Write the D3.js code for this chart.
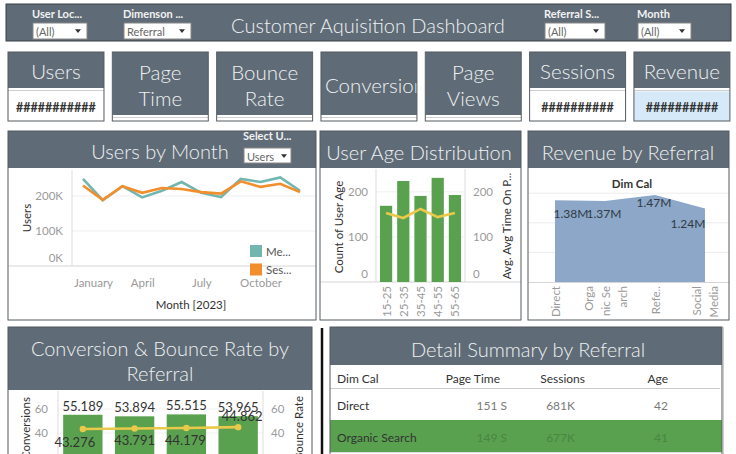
<!DOCTYPE html>
<html><head><meta charset="utf-8">
<script src="https://cdn.jsdelivr.net/npm/d3@7"></script>
<style>body{margin:0;background:#fff;} svg{display:block;font-family:Lato,"Open Sans",sans-serif;}</style>
</head><body><svg id="c" width="736" height="454"></svg>
<script>
// ---------- DATA ----------
const filterLabels = ["User Loc...", "Dimenson ...", "Referral S...", "Month"];
const filterValues = ["(All)", "Referral", "(All)", "(All)"];
const kpiNames = ["Users", "Page Time", "Bounce Rate", "Conversion", "Page Views", "Sessions", "Revenue"];
const kpiTitleLines = [["Users"], ["Page", "Time"], ["Bounce", "Rate"], ["Conversion"], ["Page", "Views"], ["Sessions"], ["Revenue"]];
const kpiValues = ["###########", null, null, null, null, "##########", "##########"];

const months = ["January","February","March","April","May","June","July","August","September","October","November","December"];
const monthTicks = ["January","April","July","October"];
const mediumUsers = [249000,188000,228000,196000,215000,240000,209000,197000,249000,240000,253000,215000];
const sessionUsers = [230000,189000,228000,209000,223000,220000,211000,207000,242000,226000,235000,211000];
const usersTicks = [0,100000,200000];

const ageGroups = ["15-25","25-35","35-45","45-55","55-65"];
const ageCounts = [169,224,191,231,193];
const ageAvgTime = [153,142,162,144,153];
const ageTicks = [0,100,200];

const referrals = ["Direct","Organic Search","Referral","Social Media"];
const referralTickLines = [["Direct"],["Orga","nic Se","arch"],["Refe.."],["Social","Media"]];
const revenue = [1380000,1370000,1470000,1240000];
const revenueLabels = ["1.38M","1.37M","1.47M","1.24M"];
const revenueGrid = [500000,1000000,1500000];

const conversions = [55.189,53.894,55.515,53.965];
const bounceRates = [43.276,43.791,44.179,44.862];
const convTicks = [40,60];

const tableHeaders = ["Dim Cal","Page Time","Sessions","Age"];
const tableRows = [["Direct","151 S","681K","42"],["Organic Search","149 S","677K","41"]];

// ---------- STYLE ----------
const GRAY = "#5f6b76", HTXT = "#eef1f3", BORDER = "#555b61";
const GREEN = "#59a14f", TEAL = "#72b6b0", ORANGE = "#f28e2b", YELLOW = "#e9c94a", AREA = "#8ca7c7";
const TICK = "#9a9a9a", DARK = "#333", TW = 300;

const svg = d3.select("#c");

// ---------- TOP BAR ----------
svg.append("rect").attr("x",6).attr("y",4).attr("width",725).attr("height",37)
  .attr("fill",GRAY).attr("stroke","#3b4045");
svg.append("text").attr("x",368).attr("y",25).attr("text-anchor","middle")
  .attr("dominant-baseline","central").attr("font-size",20).attr("font-weight",TW).attr("fill",HTXT)
  .text("Customer Aquisition Dashboard");
const filterX = [32,123,544,637], filterW = [54,67,60,53];
filterLabels.forEach((l,i)=>{
  const g = svg.append("g").attr("transform",`translate(${filterX[i]},0)`);
  g.append("text").attr("x",0).attr("y",18).attr("font-size",11).attr("font-weight",700)
    .attr("fill","#f2f2f2").text(l);
  g.append("rect").attr("x",1).attr("y",23).attr("width",filterW[i]).attr("height",16)
    .attr("fill","#fff").attr("stroke","#888");
  g.append("text").attr("x",4).attr("y",31.5).attr("dominant-baseline","central")
    .attr("font-size",11).attr("fill","#666").text(filterValues[i]);
  g.append("path").attr("transform",`translate(${filterW[i]-8},31)`)
    .attr("d","M-3,-1.8L3,-1.8L0,2Z").attr("fill","#333");
});

// ---------- KPI BOXES ----------
const kx = d3.scaleBand().domain(kpiNames).range([8,729.9]).paddingInner(0.08).paddingOuter(0);
const defs = svg.append("defs");
kpiNames.forEach((k,i)=>{
  const x = kx(k), w = kx.bandwidth(), y0 = 52, h = 69;
  const hasVal = kpiValues[i] !== null;
  const hh = hasVal ? 36 : 63;
  defs.append("clipPath").attr("id","kc"+i).append("rect")
    .attr("x",x).attr("y",y0).attr("width",w).attr("height",h);
  const g = svg.append("g").attr("clip-path",`url(#kc${i})`);
  g.append("rect").attr("x",x).attr("y",y0).attr("width",w).attr("height",h).attr("fill","#fff");
  g.append("rect").attr("x",x).attr("y",y0).attr("width",w).attr("height",hh).attr("fill",GRAY);
  g.append("line").attr("x1",x).attr("x2",x+w).attr("y1",y0+hh+2.5).attr("y2",y0+hh+2.5)
    .attr("stroke","#cfcfcf").attr("stroke-width",1.2);
  if (hasVal) {
    g.append("rect").attr("x",x).attr("y",y0+hh+3.5).attr("width",w).attr("height",h-hh-3.5)
      .attr("fill", k==="Revenue" ? "#d5e9f8" : "#fff");
    g.append("text").attr("x",x+w/2).attr("y",y0+55).attr("text-anchor","middle")
      .attr("dominant-baseline","central").attr("font-size",12.5).attr("font-weight",700)
      .attr("fill","#333").text(kpiValues[i]);
  }
  const lines = kpiTitleLines[i];
  const cy = hasVal ? y0+19 : (lines.length===1 ? y0+33 : y0+20);
  lines.forEach((t,j)=>{
    g.append("text").attr("x", lines.length===1 && !hasVal ? x+4 : x+w/2).attr("y",cy+j*26)
      .attr("text-anchor", lines.length===1 && !hasVal ? "start" : "middle")
      .attr("dominant-baseline","central").attr("font-size",20.5).attr("font-weight",TW)
      .attr("fill",HTXT).text(t);
  });
  svg.append("rect").attr("x",x).attr("y",y0).attr("width",w).attr("height",h)
    .attr("fill","none").attr("stroke",BORDER);
});

// ---------- PANEL HELPER ----------
function panel(x,y,w,h,hh,titles,cx,cy,lh){
  svg.append("rect").attr("x",x).attr("y",y).attr("width",w).attr("height",h).attr("fill","#fff");
  svg.append("rect").attr("x",x).attr("y",y).attr("width",w).attr("height",hh).attr("fill",GRAY);
  titles.forEach((t,j)=>svg.append("text").attr("x",cx).attr("y",cy+j*(lh||0))
    .attr("text-anchor","middle").attr("dominant-baseline","central")
    .attr("font-size",20).attr("font-weight",TW).attr("fill",HTXT).text(t));
}
function border(x,y,w,h){
  svg.append("rect").attr("x",x).attr("y",y).attr("width",w).attr("height",h)
    .attr("fill","none").attr("stroke",BORDER);
}
function styleAxis(g,size,color){
  g.select(".domain").remove();
  g.selectAll("text").attr("font-size",size).attr("fill",color).attr("font-family","Lato,sans-serif");
}

// ---------- USERS BY MONTH ----------
panel(8,131,308,189,37,["Users by Month"],160,151);
svg.append("text").attr("x",243).attr("y",140).attr("font-size",11).attr("font-weight",700)
  .attr("fill","#f2f2f2").text("Select U...");
svg.append("rect").attr("x",244).attr("y",148).attr("width",47).attr("height",15)
  .attr("fill","#fff").attr("stroke","#888");
svg.append("text").attr("x",247).attr("y",156).attr("dominant-baseline","central")
  .attr("font-size",11).attr("fill","#666").text("Users");
svg.append("path").attr("transform","translate(284,156)").attr("d","M-3,-1.8L3,-1.8L0,2Z").attr("fill","#333");

const xm = d3.scalePoint().domain(months).range([83,300]);
const ym = d3.scaleLinear().domain([0,270000]).range([266,171.5]);
svg.append("g").selectAll("line").data(usersTicks.slice(1)).join("line")
  .attr("x1",72).attr("x2",316).attr("y1",d=>ym(d)).attr("y2",d=>ym(d)).attr("stroke","#efefef");
svg.append("line").attr("x1",72).attr("x2",72).attr("y1",170).attr("y2",266).attr("stroke","#ddd");
svg.append("line").attr("x1",8).attr("x2",316).attr("y1",266).attr("y2",266).attr("stroke","#d6d6d6");
const yAxM = svg.append("g").attr("transform","translate(66,0)")
  .call(d3.axisLeft(ym).tickValues(usersTicks).tickSize(0).tickFormat(d=>d/1000+"K"));
styleAxis(yAxM,11.5,TICK);
yAxM.selectAll(".tick").filter(d=>d===0).select("text").attr("dy","-0.35em");
const xAxM = svg.append("g").attr("transform","translate(0,276)")
  .call(d3.axisBottom(xm).tickValues(monthTicks).tickSize(0));
styleAxis(xAxM,11.5,TICK);
xAxM.selectAll(".tick").filter(d=>d==="January").select("text").attr("dx",10);
svg.append("text").attr("transform","translate(26,218) rotate(-90)").attr("text-anchor","middle")
  .attr("dominant-baseline","central").attr("font-size",11.5).attr("fill",DARK).text("Users");
svg.append("text").attr("x",191).attr("y",304).attr("text-anchor","middle")
  .attr("dominant-baseline","central").attr("font-size",11.5).attr("fill",DARK).text("Month [2023]");
const lineM = d3.line().x((d,i)=>xm(months[i])).y(d=>ym(d));
svg.append("path").datum(mediumUsers).attr("d",lineM).attr("fill","none").attr("stroke",TEAL).attr("stroke-width",2.6);
svg.append("path").datum(sessionUsers).attr("d",lineM).attr("fill","none").attr("stroke",ORANGE).attr("stroke-width",2.6);
[["Me...",TEAL],["Ses...",ORANGE]].forEach((l,i)=>{
  svg.append("rect").attr("x",250).attr("y",245+i*18.5).attr("width",12).attr("height",12).attr("fill",l[1]);
  svg.append("text").attr("x",266).attr("y",251+i*18.5).attr("dominant-baseline","central")
    .attr("font-size",11.5).attr("fill","#555").text(l[0]);
});
border(8,131,308,189);

// ---------- USER AGE DISTRIBUTION ----------
panel(320,131,201,189,37,["User Age Distribution"],419,152);
const xa = d3.scaleBand().domain(ageGroups).range([376,465]).paddingInner(0.29).paddingOuter(0.23);
const ya = d3.scaleLinear().domain([0,244]).range([282,172]);
svg.append("g").selectAll("line").data(ageTicks.slice(1)).join("line")
  .attr("x1",376).attr("x2",465).attr("y1",d=>ya(d)).attr("y2",d=>ya(d)).attr("stroke","#f0f0f0");
svg.append("line").attr("x1",376).attr("x2",376).attr("y1",169).attr("y2",282).attr("stroke","#ddd");
svg.append("line").attr("x1",465).attr("x2",465).attr("y1",169).attr("y2",282).attr("stroke","#ddd");
svg.append("line").attr("x1",320).attr("x2",521).attr("y1",282).attr("y2",282).attr("stroke","#d6d6d6");
svg.append("g").selectAll("rect").data(ageCounts).join("rect")
  .attr("x",(d,i)=>xa(ageGroups[i])).attr("width",xa.bandwidth())
  .attr("y",d=>ya(d)).attr("height",d=>ya(0)-ya(d)).attr("fill",GREEN);
svg.append("path").datum(ageAvgTime)
  .attr("d",d3.line().x((d,i)=>xa(ageGroups[i])+xa.bandwidth()/2).y(d=>ya(d)))
  .attr("fill","none").attr("stroke",YELLOW).attr("stroke-width",2.6);
const yAxA = svg.append("g").attr("transform","translate(371,0)")
  .call(d3.axisLeft(ya).tickValues(ageTicks).tickSize(0));
styleAxis(yAxA,11.5,TICK);
yAxA.selectAll(".tick").filter(d=>d===0).select("text").attr("dy","-0.35em");
const yAxA2 = svg.append("g").attr("transform","translate(470,0)")
  .call(d3.axisRight(ya).tickValues(ageTicks).tickSize(0));
styleAxis(yAxA2,11.5,TICK);
yAxA2.selectAll(".tick").filter(d=>d===0).select("text").attr("dy","-0.35em");
svg.append("g").selectAll("text").data(ageGroups).join("text")
  .attr("transform",d=>`translate(${xa(d)+xa.bandwidth()/2},286) rotate(-90)`)
  .attr("text-anchor","end").attr("dominant-baseline","central")
  .attr("font-size",11.5).attr("fill",TICK).text(d=>d);
svg.append("text").attr("transform","translate(338,227) rotate(-90)").attr("text-anchor","middle")
  .attr("dominant-baseline","central").attr("font-size",11.5).attr("fill",DARK).text("Count of User Age");
svg.append("text").attr("transform","translate(506,226) rotate(-90)").attr("text-anchor","middle")
  .attr("dominant-baseline","central").attr("font-size",11.5).attr("fill",DARK).text("Avg. Avg Time On P...");
border(320,131,201,189);

// ---------- REVENUE BY REFERRAL ----------
panel(528,131,201,189,37,["Revenue by Referral"],628,152);
svg.append("text").attr("x",632).attr("y",183).attr("text-anchor","middle")
  .attr("dominant-baseline","central").attr("font-size",11.5).attr("font-weight",700)
  .attr("fill",DARK).text("Dim Cal");
const xr = d3.scalePoint().domain(referrals).range([555,705]);
const yr = d3.scaleLinear().domain([0,1500000]).range([282,193.2]);
svg.append("g").selectAll("line").data(revenueGrid).join("line")
  .attr("x1",528).attr("x2",729).attr("y1",d=>yr(d)).attr("y2",d=>yr(d)).attr("stroke","#ececec");
svg.append("path").datum(revenue)
  .attr("d",d3.area().x((d,i)=>xr(referrals[i])).y0(yr(0)).y1(d=>yr(d)))
  .attr("fill",AREA);
svg.append("line").attr("x1",528).attr("x2",729).attr("y1",282.5).attr("y2",282.5).attr("stroke","#d6d6d6");
const revLabelDx = [16,-1,-1,-17], revLabelDy = [13,13,8,15];
svg.append("g").selectAll("text").data(revenue).join("text")
  .attr("x",(d,i)=>xr(referrals[i])+revLabelDx[i]).attr("y",(d,i)=>yr(d)+revLabelDy[i])
  .attr("text-anchor","middle").attr("dominant-baseline","central")
  .attr("font-size",12).attr("fill","#2f3a46").text((d,i)=>revenueLabels[i]);
referrals.forEach((r,i)=>{
  const ls = referralTickLines[i];
  ls.forEach((t,j)=>{
    const off = (j-(ls.length-1)/2)*17;
    svg.append("text").attr("transform",`translate(${xr(r)+off},286) rotate(-90)`)
      .attr("text-anchor","end").attr("dominant-baseline","central")
      .attr("font-size",11.5).attr("fill",TICK).text(t);
  });
});
border(528,131,201,189);

// ---------- CONVERSION & BOUNCE RATE ----------
panel(8,327,304,140,63,["Conversion & Bounce Rate by","Referral"],160,348,25);
const xc = d3.scaleBand().domain(referrals).range([58,263]).paddingInner(0.24).paddingOuter(0.1);
const yc = d3.scaleLinear().domain([0,70]).range([481,397]);
svg.append("g").selectAll("line").data(convTicks).join("line")
  .attr("x1",58).attr("x2",263).attr("y1",d=>yc(d)).attr("y2",d=>yc(d)).attr("stroke","#f0f0f0");
svg.append("line").attr("x1",58).attr("x2",58).attr("y1",391).attr("y2",454).attr("stroke","#ddd");
svg.append("line").attr("x1",263).attr("x2",263).attr("y1",391).attr("y2",454).attr("stroke","#ddd");
svg.append("g").selectAll("rect").data(conversions).join("rect")
  .attr("x",(d,i)=>xc(referrals[i])).attr("width",xc.bandwidth())
  .attr("y",d=>yc(d)).attr("height",d=>yc(0)-yc(d)).attr("fill",GREEN);
const cxp = i=>xc(referrals[i])+xc.bandwidth()/2;
svg.append("path").datum(bounceRates).attr("d",d3.line().x((d,i)=>cxp(i)).y(d=>yc(d)))
  .attr("fill","none").attr("stroke",YELLOW).attr("stroke-width",2.6);
svg.append("g").selectAll("circle").data(bounceRates).join("circle")
  .attr("cx",(d,i)=>cxp(i)).attr("cy",d=>yc(d)).attr("r",3.2).attr("fill",YELLOW);
svg.append("g").selectAll("text").data(conversions).join("text")
  .attr("x",(d,i)=>cxp(i)).attr("y",d=>yc(d)-9).attr("text-anchor","middle")
  .attr("dominant-baseline","central").attr("font-size",13).attr("fill",DARK).text(d=>d.toFixed(3));
const bDx = [-8,0,-1,4], bDy = [13,12,12,-11];
svg.append("g").selectAll("text").data(bounceRates).join("text")
  .attr("x",(d,i)=>cxp(i)+bDx[i]).attr("y",(d,i)=>yc(d)+bDy[i]).attr("text-anchor","middle")
  .attr("dominant-baseline","central").attr("font-size",13).attr("fill",DARK).text(d=>d.toFixed(3));
const yAxC = svg.append("g").attr("transform","translate(51,0)")
  .call(d3.axisLeft(yc).tickValues(convTicks).tickSize(0));
styleAxis(yAxC,11.5,TICK);
const yAxC2 = svg.append("g").attr("transform","translate(268,0)")
  .call(d3.axisRight(yc).tickValues(convTicks).tickSize(0));
styleAxis(yAxC2,11.5,TICK);
svg.append("text").attr("transform","translate(25,428) rotate(-90)").attr("text-anchor","middle")
  .attr("dominant-baseline","central").attr("font-size",11.5).attr("fill",DARK).text("Conversions");
svg.append("text").attr("transform","translate(298,428) rotate(-90)").attr("text-anchor","middle")
  .attr("dominant-baseline","central").attr("font-size",11.5).attr("fill",DARK).text("Bounce Rate");
border(8,327,304,140);

// divider
svg.append("line").attr("x1",322).attr("x2",322).attr("y1",328).attr("y2",454)
  .attr("stroke","#111").attr("stroke-width",2.5);

// ---------- DETAIL SUMMARY ----------
panel(330,327,392,140,38,["Detail Summary by Referral"],528,349);
const colX = [337,500,585,668];
const colAnchor = ["start","end","end","end"];
tableHeaders.forEach((h,i)=>{
  svg.append("text").attr("x",colX[i]).attr("y",378).attr("text-anchor",colAnchor[i])
    .attr("dominant-baseline","central").attr("font-size",12).attr("fill",DARK).text(h);
});
svg.append("line").attr("x1",330).attr("x2",720).attr("y1",388.5).attr("y2",388.5).attr("stroke","#ccc");
const rowY = d3.scalePoint().domain(tableRows.map(r=>r[0])).range([405,437]);
svg.append("rect").attr("x",330).attr("y",420).attr("width",392).attr("height",32).attr("fill",GREEN);
const valX = [337,507,575,668];
tableRows.forEach((r,ri)=>{
  r.forEach((v,ci)=>{
    svg.append("text").attr("x",valX[ci]).attr("y",rowY(r[0])).attr("text-anchor",colAnchor[ci])
      .attr("dominant-baseline","central").attr("font-size",12)
      .attr("fill", ci===0 ? DARK : (ri===1 ? "#4a8542" : "#7a7a7a")).text(v);
  });
});
svg.append("line").attr("x1",330).attr("x2",722).attr("y1",452.5).attr("y2",452.5).attr("stroke","#ddd");
border(330,327,392,140);
svg.append("line").attr("x1",723.5).attr("x2",723.5).attr("y1",327).attr("y2",454).attr("stroke","#ccc");
</script></body></html>
